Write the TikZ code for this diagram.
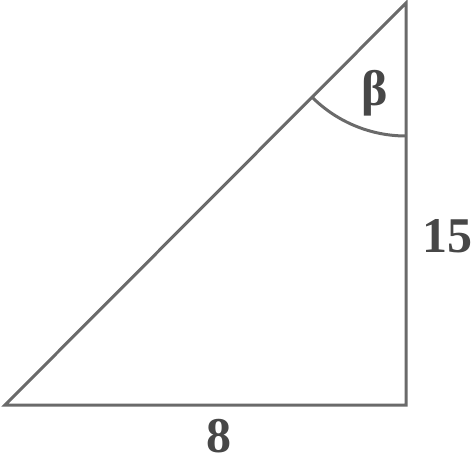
\documentclass[tikz,border=0pt]{standalone}
\usepackage{fontspec}
\setmainfont{Liberation Serif}
\definecolor{edge}{HTML}{6A6A6A}
\definecolor{ink}{HTML}{474747}
\begin{document}
\begin{tikzpicture}[x=1pt,y=-1pt,
  side/.style={draw=edge,line width=3pt,line join=miter},
  lbl/.style={text=ink,font=\fontsize{50}{60}\selectfont\bfseries,inner sep=0pt}]
\useasboundingbox (0,0) rectangle (474,466);
\coordinate (A) at (5,405);
\coordinate (B) at (406,405);
\coordinate (C) at (406,3);
\draw[side] (A) -- (B) -- (C) -- cycle;
\draw[side] (C) ++(90:133) arc[start angle=90,end angle=135,radius=133];
\node[lbl] (beta) at (375,93) {β};
\node[lbl] (fifteen) at (447,236) {15};
\node[lbl] (eight) at (219,436) {8};
\end{tikzpicture}
\end{document}
